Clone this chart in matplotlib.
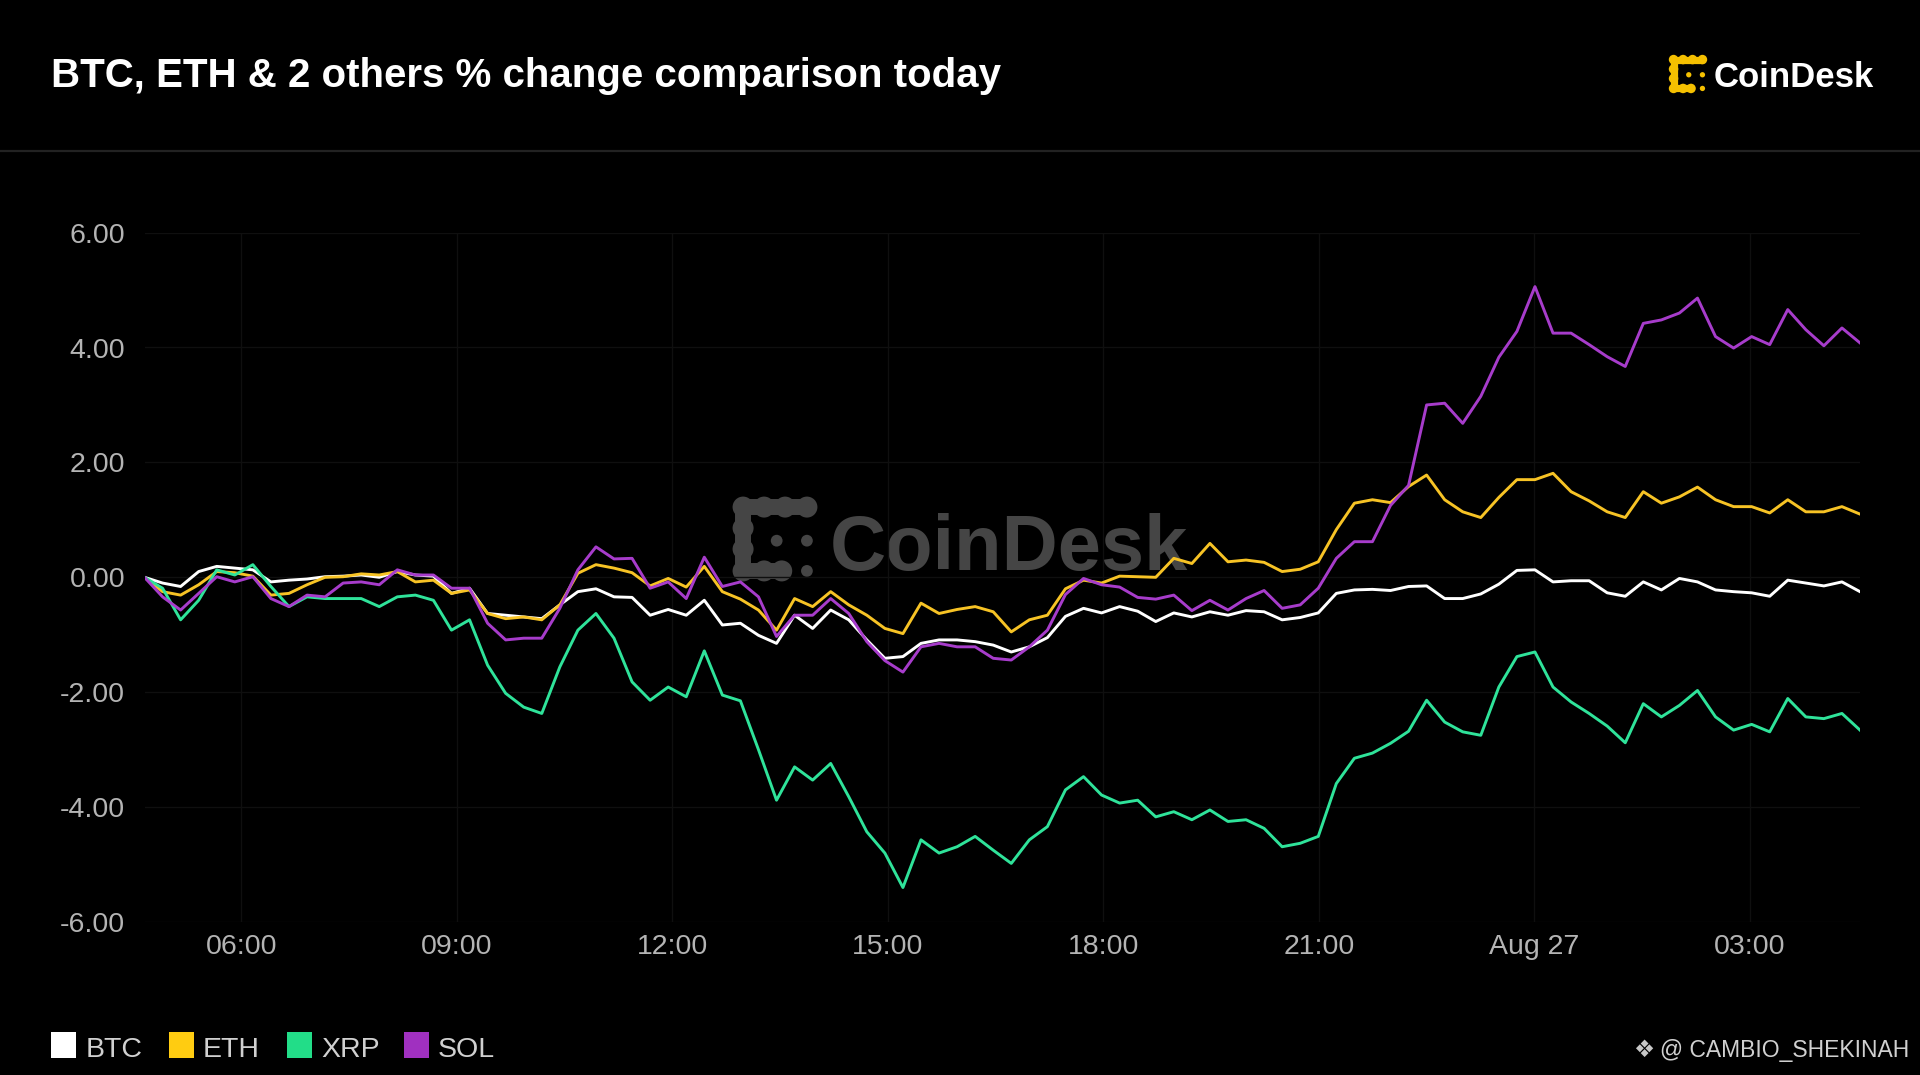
import pandas as pd
import numpy as np
import matplotlib
matplotlib.use("Agg")
import matplotlib.pyplot as plt
import matplotlib.dates as mdates
from matplotlib.patches import Circle, Rectangle

# % change, one value every ~15 min
btc = [0.00, -0.10, -0.16, 0.10, 0.19, 0.16, 0.13, -0.08, -0.05, -0.03,
       0.01, 0.02, 0.04, 0.00, 0.10, 0.04, 0.02, -0.28, -0.19, -0.63,
       -0.66, -0.69, -0.72, -0.48, -0.25, -0.20, -0.34, -0.35, -0.66, -0.56,
       -0.66, -0.40, -0.83, -0.80, -1.01, -1.15, -0.66, -0.89, -0.57, -0.74,
       -1.09, -1.41, -1.38, -1.15, -1.09, -1.09, -1.12, -1.18, -1.30, -1.21,
       -1.05, -0.68, -0.54, -0.62, -0.51, -0.59, -0.77, -0.62, -0.69, -0.60,
       -0.66, -0.58, -0.60, -0.74, -0.70, -0.62, -0.28, -0.22, -0.21, -0.23,
       -0.16, -0.15, -0.37, -0.37, -0.29, -0.12, 0.12, 0.13, -0.08, -0.06,
       -0.06, -0.27, -0.33, -0.08, -0.22, -0.02, -0.08, -0.22, -0.25, -0.27,
       -0.33, -0.05, -0.10, -0.15, -0.08, -0.25]
eth = [0.00, -0.25, -0.31, -0.13, 0.10, 0.08, 0.02, -0.31, -0.28, -0.13,
       0.00, 0.01, 0.06, 0.04, 0.10, -0.08, -0.05, -0.28, -0.22, -0.63,
       -0.72, -0.69, -0.74, -0.48, 0.07, 0.22, 0.16, 0.08, -0.15, -0.02,
       -0.17, 0.19, -0.25, -0.38, -0.57, -0.92, -0.37, -0.51, -0.25, -0.48,
       -0.66, -0.89, -0.98, -0.45, -0.63, -0.56, -0.51, -0.60, -0.95, -0.74,
       -0.66, -0.20, -0.05, -0.10, 0.02, 0.01, 0.00, 0.33, 0.24, 0.59,
       0.27, 0.30, 0.26, 0.10, 0.14, 0.27, 0.83, 1.29, 1.35, 1.30,
       1.58, 1.78, 1.35, 1.14, 1.04, 1.39, 1.70, 1.70, 1.81, 1.49,
       1.33, 1.14, 1.04, 1.49, 1.29, 1.40, 1.57, 1.35, 1.23, 1.23,
       1.12, 1.35, 1.14, 1.14, 1.23, 1.10]
xrp = [0.00, -0.19, -0.74, -0.40, 0.13, 0.04, 0.22, -0.16, -0.51, -0.34,
       -0.37, -0.37, -0.37, -0.51, -0.34, -0.31, -0.40, -0.92, -0.74, -1.53,
       -2.02, -2.26, -2.37, -1.56, -0.92, -0.63, -1.06, -1.82, -2.14, -1.91,
       -2.08, -1.28, -2.05, -2.15, -3.00, -3.88, -3.30, -3.53, -3.24, -3.82,
       -4.43, -4.80, -5.40, -4.57, -4.80, -4.69, -4.51, -4.75, -4.98, -4.57,
       -4.34, -3.70, -3.47, -3.79, -3.93, -3.88, -4.17, -4.08, -4.22, -4.05,
       -4.25, -4.22, -4.37, -4.69, -4.63, -4.51, -3.59, -3.15, -3.06, -2.89,
       -2.68, -2.14, -2.52, -2.69, -2.75, -1.91, -1.38, -1.30, -1.91, -2.17,
       -2.37, -2.59, -2.88, -2.20, -2.43, -2.23, -1.97, -2.43, -2.66, -2.56,
       -2.69, -2.11, -2.43, -2.46, -2.37, -2.66]
sol = [0.00, -0.34, -0.57, -0.28, 0.01, -0.08, 0.01, -0.37, -0.51, -0.31,
       -0.34, -0.10, -0.08, -0.13, 0.13, 0.04, 0.04, -0.19, -0.19, -0.80,
       -1.09, -1.06, -1.06, -0.54, 0.13, 0.53, 0.32, 0.33, -0.19, -0.08,
       -0.37, 0.35, -0.16, -0.08, -0.34, -1.03, -0.66, -0.66, -0.37, -0.63,
       -1.12, -1.45, -1.65, -1.21, -1.15, -1.21, -1.21, -1.41, -1.44, -1.21,
       -0.92, -0.30, -0.02, -0.13, -0.17, -0.35, -0.38, -0.31, -0.58, -0.40,
       -0.57, -0.37, -0.23, -0.54, -0.48, -0.19, 0.33, 0.62, 0.62, 1.25,
       1.60, 3.00, 3.03, 2.68, 3.15, 3.83, 4.28, 5.06, 4.25, 4.25,
       4.05, 3.84, 3.67, 4.42, 4.48, 4.60, 4.86, 4.19, 3.99, 4.19,
       4.05, 4.66, 4.31, 4.03, 4.34, 4.08]

names = ["BTC", "ETH", "XRP", "SOL"]
colors = ["#FFFFFF", "#F7C325", "#2FE39A", "#A73CCB"]
legend_colors = ["#FFFFFF", "#FFCC11", "#22DD88", "#A030C0"]
yticks = [-6, -4, -2, 0, 2, 4, 6]
xtick_labels = ["06:00", "09:00", "12:00", "15:00", "18:00", "21:00", "Aug 27", "03:00"]

times = pd.date_range("2024-08-26 04:39", "2024-08-27 04:32", periods=len(btc))
xtick_times = pd.date_range("2024-08-26 06:00", periods=len(xtick_labels), freq="3h")

W, H = 1920, 1075
fig = plt.figure(figsize=(W / 100, H / 100), dpi=100, facecolor="black")

# overlay in pixel coords for title, logos, legend
bg = fig.add_axes([0, 0, 1, 1], zorder=0)
bg.set_xlim(0, W)
bg.set_ylim(H, 0)
bg.axis("off")
bg.set_facecolor("black")


def draw_logo(ax, x0, y0, s, color):
    lw = s * 0.19 * 0.72
    ax.plot([x0 + 0.12 * s, x0 + 0.88 * s], [y0 + 0.12 * s] * 2, color=color, lw=lw, solid_capstyle="round")
    ax.plot([x0 + 0.12 * s] * 2, [y0 + 0.12 * s, y0 + 0.88 * s], color=color, lw=lw, solid_capstyle="round")
    ax.plot([x0 + 0.12 * s, x0 + 0.58 * s], [y0 + 0.88 * s] * 2, color=color, lw=lw, solid_capstyle="round")
    blobs = [(0.12, 0.12), (0.37, 0.12), (0.62, 0.12), (0.88, 0.12),
             (0.12, 0.37), (0.12, 0.62), (0.12, 0.88), (0.37, 0.88), (0.58, 0.88)]
    for u, v in blobs:
        ax.add_patch(Circle((x0 + u * s, y0 + v * s), 0.125 * s, color=color, lw=0))
    for u, v in [(0.52, 0.52), (0.88, 0.52), (0.88, 0.88)]:
        ax.add_patch(Circle((x0 + u * s, y0 + v * s), 0.07 * s, color=color, lw=0))


# header
bg.text(51, 87, "BTC, ETH & 2 others % change comparison today", color="white",
        fontsize=29, fontweight="bold", family="Liberation Sans", va="baseline", ha="left")
draw_logo(bg, 1669, 55, 38, "#F5C000")
bg.text(1714, 87, "CoinDesk", color="white", fontsize=25, fontweight="bold",
        family="Liberation Sans", va="baseline", ha="left")
bg.plot([0, W], [151, 151], color="#222222", lw=1.6)

# watermark behind the lines
draw_logo(bg, 733, 497, 84, "#454545")
bg.text(830, 570, "CoinDesk", color="#454545", fontsize=56, fontweight="bold",
        family="Liberation Sans", va="baseline", ha="left")

# legend
sq_x = [51, 169, 287, 404]
txt_x = [86, 203, 321, 438]
for name, c, sx, tx in zip(names, legend_colors, sq_x, txt_x):
    bg.add_patch(Rectangle((sx, 1032), 25, 26, color=c, lw=0))
    bg.text(tx, 1057, name, color="#d0d0d0", fontsize=20.5, family="Liberation Sans",
            va="baseline", ha="left")

bg.text(1644, 1057, "\u2756", color="#c8c8c8", fontsize=17, family="DejaVu Sans",
        va="baseline", ha="center")
bg.text(1660, 1057, "@ CAMBIO_SHEKINAH", color="#d0d0d0", fontsize=16.5,
        family="Liberation Sans", va="baseline", ha="left")

# chart
left, right, top, bottom = 144.5, 1860, 232.6, 922
ax = fig.add_axes([left / W, 1 - bottom / H, (right - left) / W, (bottom - top) / H], zorder=1)
ax.set_facecolor("none")

for vals, c in zip([btc, eth, xrp, sol], colors):
    ax.plot(times, vals, color=c, lw=2.1)

ax.set_ylim(-6, 6)
ax.set_xlim(times[0], times[-1])
ax.set_yticks(yticks)
ax.yaxis.set_major_formatter(matplotlib.ticker.FormatStrFormatter("%.2f"))
ax.set_xticks(xtick_times)
ax.set_xticklabels(xtick_labels)
ax.tick_params(axis="both", length=0, labelsize=20.5, labelcolor="#b4b4b4")
ax.tick_params(axis="y", pad=14)
ax.tick_params(axis="x", pad=9)
for lab in ax.get_xticklabels() + ax.get_yticklabels():
    lab.set_family("Liberation Sans")
ax.grid(True, color="#0f0f0f", lw=1)
ax.set_axisbelow(True)
for sp in ax.spines.values():
    sp.set_visible(False)

fig.savefig("out.png", dpi=100, facecolor="black")
